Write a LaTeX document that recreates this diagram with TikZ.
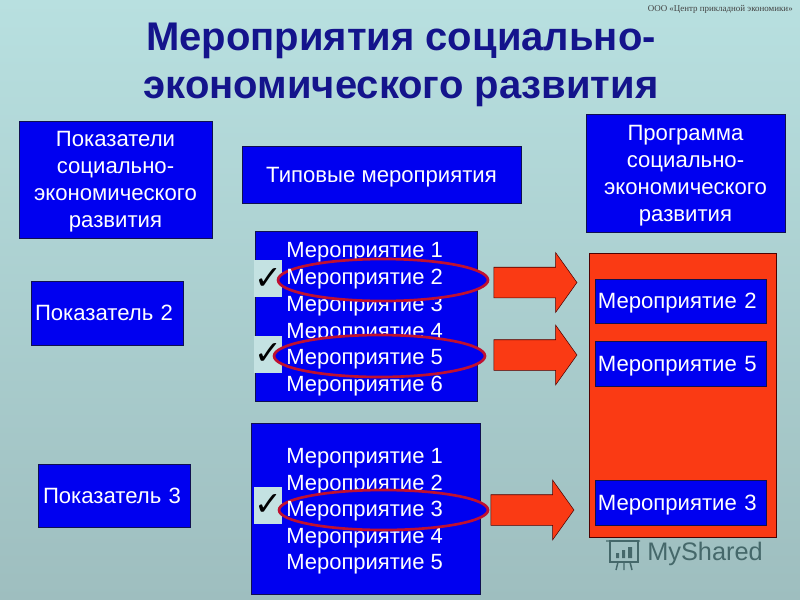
\documentclass[tikz,border=0pt]{standalone}
\usepackage{fontspec}
\setmainfont{Liberation Sans}
\newfontfamily\smallserif{Liberation Serif}
\newfontfamily\checkfont{DejaVu Sans}
\usetikzlibrary{shapes.geometric,shapes.arrows}
\definecolor{boxblue}{HTML}{0000F0}
\definecolor{boxedge}{HTML}{101050}
\definecolor{redfill}{HTML}{FA3A14}
\definecolor{ringred}{HTML}{C01030}
\definecolor{titleblue}{HTML}{14148C}
\definecolor{markgray}{HTML}{45686A}
\definecolor{backtop}{HTML}{B8E0E0}
\definecolor{backbottom}{HTML}{9EBEBF}
\definecolor{tickfill}{HTML}{C4E2E2}
\tikzset{
    bluebox/.style={draw=boxedge,fill=boxblue,text=white,font=\fontsize{16.6}{20.25}\selectfont,align=center,inner sep=0pt,text depth=0pt},
    itemline/.style={anchor=west,text=white,font=\fontsize{16.5}{18}\selectfont,inner sep=0pt,text depth=0pt},
    ring/.style={ellipse,draw=ringred,line width=2pt,fill=boxblue,inner sep=0pt},
    redarrow/.style={single arrow,draw=black!70!red,fill=redfill,inner xsep=0pt,inner ysep=11.25pt,minimum width=44.25pt,minimum height=62.25pt,single arrow head extend=10.875pt,single arrow tip angle=109},
    tickbox/.style={fill=tickfill,minimum width=19.5pt,minimum height=27.75pt,inner sep=0pt,font=\checkfont\fontsize{25}{25}\selectfont}
}
\begin{document}
\begin{tikzpicture}[x=0.75pt,y=-0.75pt]
    \shade[top color=backtop,bottom color=backbottom] (0,0) rectangle (800,600);
    \useasboundingbox (0,0) rectangle (800,600);

    \node[text=titleblue,font=\bfseries\fontsize{30}{36}\selectfont,align=center] (title) at (401,65) {Мероприятия социально-\\экономического развития};
    \node[anchor=east,inner sep=0pt,text=black!75,font=\smallserif\fontsize{6.7}{7}\selectfont] (firm) at (793,9) {ООО «Центр прикладной экономики»};

    \node[bluebox,minimum width=144.75pt,minimum height=87.75pt] (indhead) at (115.5,179.5) {Показатели\\социально-\\экономического\\развития};
    \node[bluebox,minimum width=209.25pt,minimum height=42.75pt] (typical) at (381.5,174.5) {Типовые мероприятия};
    \node[bluebox,minimum width=149.25pt,minimum height=88.5pt] (proghead) at (685.5,173) {Программа\\социально-\\экономического\\развития};
    \node[bluebox,align=left,text width=108pt,minimum width=114pt,minimum height=48pt] (ind2) at (107,313) {Показатель 2};
    \node[bluebox,align=left,text width=106.5pt,minimum width=114pt,minimum height=47.25pt] (ind3) at (114,495.5) {Показатель 3};

    \node[bluebox,minimum width=166.5pt,minimum height=127.5pt] (listA) at (366,316) {};
    \node[bluebox,minimum width=171.75pt,minimum height=128.25pt] (listB) at (365.5,508.5) {};
    \node[draw=black!70!red,fill=redfill,minimum width=140.25pt,minimum height=213pt,inner sep=0pt] (prog) at (682.5,395) {};

    \foreach \n/\y/\t in {1/250/1,2/277/2,3/304/3,4/331/4,5/357/5,6/384/6}
        \node[itemline] (a\n) at (286,\y) {Мероприятие \t};
    \foreach \n/\y/\t in {1/456/1,2/483/2,3/509/3,4/536/4,5/562/5}
        \node[itemline] (b\n) at (286,\y) {Мероприятие \t};

    \node[tickbox] (tickA) at (268,278.5) {✓};
    \node[tickbox] (tickB) at (268,354) {✓};
    \node[tickbox] (tickC) at (268,505) {✓};

    \node[ring,minimum width=157.5pt,minimum height=31.5pt] (ringA) at (383,280) {};
    \node[ring,minimum width=158.25pt,minimum height=31.5pt] (ringB) at (379.5,356) {};
    \node[ring,minimum width=156.75pt,minimum height=30pt] (ringC) at (383.5,510) {};
    \node[itemline] at (286,277) {Мероприятие 2};
    \node[itemline] at (286,357) {Мероприятие 5};
    \node[itemline] at (286,509) {Мероприятие 3};

    \node[redarrow] (arrowA) at (530,282.5) {};
    \node[redarrow] (arrowB) at (530,355) {};
    \node[redarrow] (arrowC) at (527,510) {};

    \node[bluebox,align=left,text width=124pt,minimum width=128.25pt,minimum height=33pt] (progA) at (680.5,301) {Мероприятие 2};
    \node[bluebox,align=left,text width=124pt,minimum width=128.25pt,minimum height=33.75pt] (progB) at (680.5,363.5) {Мероприятие 5};
    \node[bluebox,align=left,text width=124pt,minimum width=128.25pt,minimum height=33.75pt] (progC) at (680.5,502.5) {Мероприятие 3};

    \node[anchor=west,inner sep=0pt,text=markgray,font=\fontsize{19}{19}\selectfont] (mark) at (647,554) {MyShared};
    \draw[markgray,line width=1.1pt] (610,541) rectangle (638,562);
    \draw[markgray,line width=1.1pt] (606,541) -- (640,541) (624,562) -- (624,570) (616,570) -- (618,562) (632,570) -- (630,562);
    \fill[markgray] (616,553) rectangle (619,558) (622,550) rectangle (625,558) (628,547) rectangle (632,558);
\end{tikzpicture}
\end{document}
